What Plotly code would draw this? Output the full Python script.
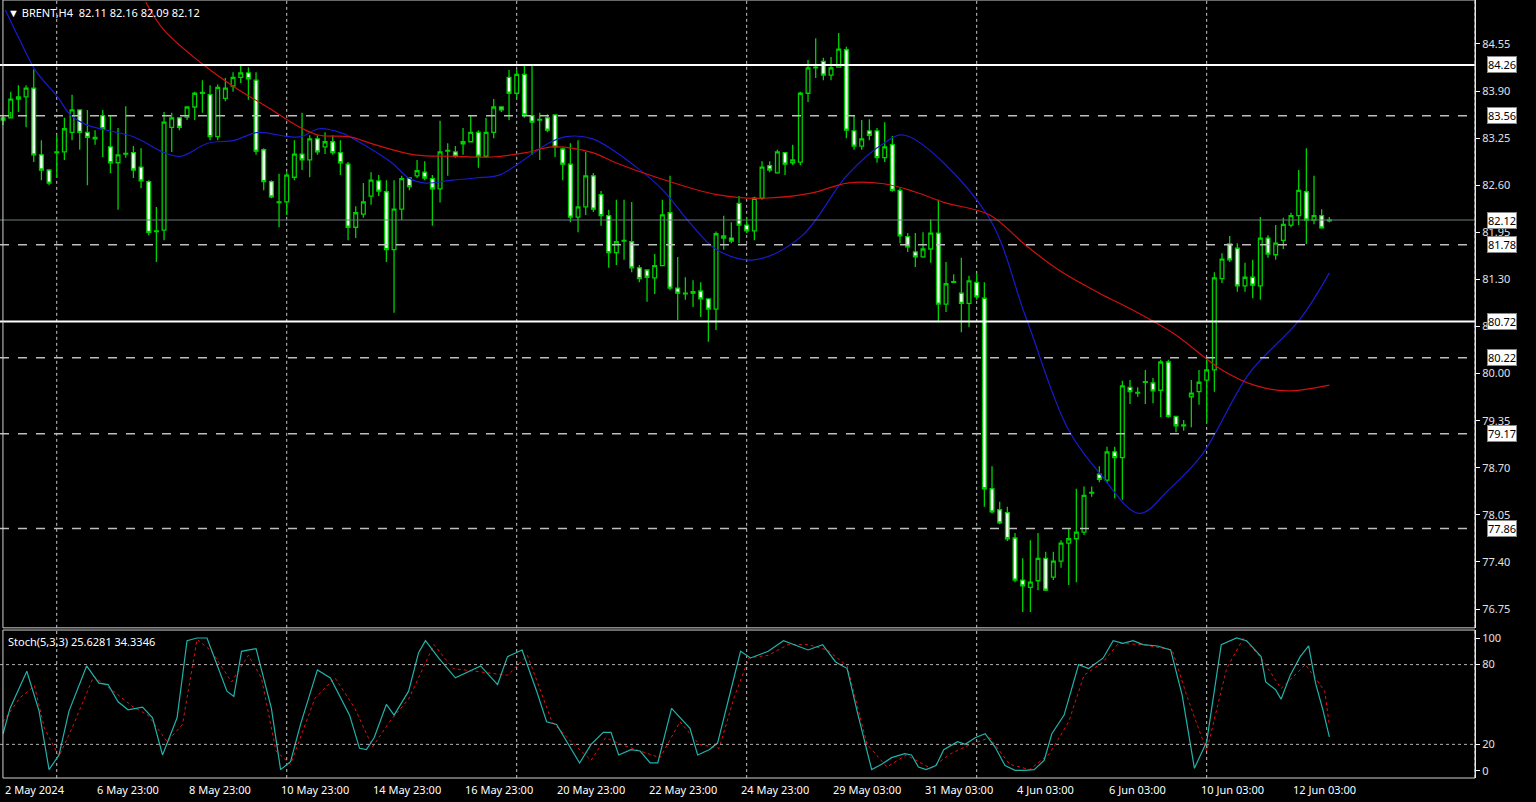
import plotly.graph_objects as go

# ---------------- data ----------------
opens = [83.50,83.53,83.79,83.82,83.94,83.02,82.81,83.05,83.06,83.33,83.64,83.33,83.26,83.56,83.13,82.91,83.03,83.05,82.85,82.65,
81.96,81.98,83.40,83.53,83.54,83.68,83.87,83.85,83.27,83.80,83.97,84.09,84.15,84.05,83.09,82.65,82.36,82.37,82.71,83.03,
82.95,83.24,83.13,83.20,83.05,82.89,82.02,82.20,82.45,82.66,82.51,81.71,82.27,82.70,82.73,82.78,82.69,82.55,83.07,83.06,
83.17,83.20,83.33,83.00,83.33,83.68,84.09,83.87,84.13,83.56,83.50,83.53,83.57,83.10,82.89,82.16,82.30,82.73,82.47,82.18,
81.67,81.83,81.82,81.46,81.43,81.32,81.49,82.22,81.18,81.10,81.13,81.14,81.03,80.89,81.90,81.87,82.35,82.05,81.97,82.42,
82.87,82.77,83.05,82.91,82.92,83.87,84.22,84.31,84.12,84.23,84.47,83.35,83.14,83.35,83.35,82.98,83.16,82.53,81.89,81.68,
81.61,81.72,81.94,80.96,81.26,81.11,80.97,81.26,81.04,78.41,78.12,78.08,77.73,77.15,77.05,77.14,77.45,77.19,77.41,77.66,
77.72,77.81,78.35,78.61,78.53,78.92,78.84,79.81,79.73,79.88,79.87,79.77,80.16,79.41,79.28,79.68,79.75,79.91,80.05,81.31,
81.79,81.73,81.21,81.33,81.21,81.87,81.64,81.84,82.05,82.18,82.51,82.12,82.18,82.11]
highs = [83.57,83.89,83.98,83.98,84.20,83.22,82.81,83.29,83.53,83.85,83.64,83.64,83.36,83.64,83.57,83.39,83.69,83.14,83.11,82.67,
82.30,83.61,83.60,83.53,83.68,83.89,84.05,83.98,83.99,84.08,84.16,84.26,84.23,84.16,83.11,82.67,82.76,82.78,83.22,83.60,
83.29,83.29,83.33,83.29,83.22,82.92,82.31,82.63,82.78,82.74,82.67,82.67,82.73,82.71,82.95,82.93,82.74,83.49,83.18,83.14,
83.39,83.57,83.36,83.53,83.79,83.68,84.19,84.19,84.25,84.26,83.60,83.58,83.57,83.12,83.18,83.22,83.06,82.77,82.52,82.26,
82.40,82.40,82.37,81.50,81.43,81.65,82.40,82.73,81.61,81.33,81.29,81.26,81.04,81.96,82.18,82.09,82.45,82.15,82.44,82.93,
82.93,83.09,83.06,83.16,83.89,84.33,84.63,84.36,84.37,84.70,84.51,83.57,83.50,83.51,83.39,83.47,83.28,82.56,81.94,81.94,
81.95,82.13,82.40,81.54,81.37,81.60,81.35,81.39,81.26,78.72,78.23,78.16,77.80,77.45,77.70,77.80,77.54,77.54,77.70,77.87,
78.41,78.44,78.44,78.72,78.99,78.99,79.90,79.91,79.81,80.05,79.94,80.19,80.19,79.41,79.36,79.91,80.05,80.19,81.40,81.66,
81.90,81.80,81.53,81.57,82.16,81.91,82.05,82.15,82.22,82.81,83.11,82.73,82.27,82.16]
lows = [83.43,83.61,83.61,83.40,82.92,82.67,82.60,82.70,82.95,83.22,83.09,82.60,83.16,82.99,82.77,82.26,82.98,82.70,82.56,81.91,
81.54,81.84,83.06,83.36,83.50,83.50,83.60,83.22,83.22,83.76,83.89,84.01,83.78,83.02,82.53,82.42,82.02,82.19,82.67,82.81,
82.71,83.02,83.03,83.02,82.74,81.84,81.87,82.15,82.33,82.45,81.54,80.84,82.12,82.53,82.70,82.67,82.04,82.36,82.73,82.98,
83.02,83.20,82.84,82.98,83.25,83.61,83.50,83.80,83.53,83.02,82.95,83.33,82.99,82.67,82.09,81.95,82.19,82.23,82.04,81.46,
81.50,81.57,81.40,81.26,80.99,81.10,81.49,81.15,80.74,81.02,80.92,80.78,80.44,80.60,81.71,81.80,81.80,81.94,81.84,82.40,
82.78,82.76,82.74,82.88,82.88,83.75,84.08,84.05,84.05,84.23,83.25,83.09,83.09,83.22,82.91,82.92,82.51,81.80,81.68,81.47,
81.60,81.53,80.71,80.85,81.25,80.57,80.64,81.02,78.16,78.07,77.92,77.69,77.12,76.71,76.71,77.01,77.00,77.15,77.32,77.08,
77.12,77.77,78.30,78.50,78.49,78.28,78.26,79.58,79.68,79.58,79.59,79.40,79.39,79.19,79.21,79.26,79.57,79.32,79.75,81.25,
81.54,81.13,81.13,81.04,81.02,81.60,81.57,81.72,82.02,82.05,81.79,82.06,82.00,82.09]
closes = [83.53,83.79,83.82,83.94,83.02,82.81,82.63,83.06,83.38,83.64,83.33,83.26,83.24,83.38,82.91,83.02,83.04,82.81,82.66,81.95,
81.97,83.47,83.53,83.40,83.68,83.87,83.88,83.27,83.95,83.94,84.09,84.15,84.07,83.07,82.65,82.44,82.37,82.74,83.03,82.95,
83.24,83.06,83.20,83.05,82.91,82.02,82.22,82.37,82.67,82.52,81.71,82.27,82.69,82.58,82.80,82.70,82.55,83.06,83.08,83.00,
83.20,83.33,83.00,83.33,83.68,83.64,83.87,84.13,83.57,83.47,83.51,83.36,83.13,82.89,82.16,82.30,82.73,82.27,82.18,81.67,
81.82,81.84,81.46,81.31,81.33,81.49,82.19,81.18,81.11,81.11,81.11,81.03,80.89,81.93,81.87,81.83,82.05,81.97,82.42,82.85,
82.81,83.06,82.89,82.95,83.87,84.22,84.23,84.12,84.22,84.48,83.36,83.14,83.24,83.29,82.98,83.13,82.53,81.90,81.75,81.61,
81.72,81.94,80.96,81.24,81.27,80.97,81.28,81.06,78.41,78.09,77.94,77.72,77.15,77.07,77.12,77.45,77.01,77.41,77.66,77.72,
77.81,78.32,78.36,78.54,78.92,78.84,79.83,79.75,79.74,79.89,79.76,80.16,79.41,79.28,79.29,79.73,79.88,80.05,81.32,81.58,
81.57,81.21,81.33,81.22,81.87,81.65,81.80,82.06,82.18,82.53,82.12,82.18,82.01,82.12]

# moving averages: (bar index, value)
ma_fast_idx = [0.3,2.2,4.2,7.1,8.8,11.0,17.0,21.0,23.2,26.7,30.1,33.3,37.2,38.9,41.2,44.2,46.4,50.7,52.9,55.0,58.6,61.6,64.7,67.4,70.8,73.4,76.9,82.6,86.1,89.6,93.1,97.9,104.1,110.1,114.9,117.6,128.2,133.4,138.8,143.0,148.2,152.0,156.4,162.6,169.1,173]
ma_fast_val = [85.02,84.60,84.19,83.82,83.57,83.43,83.27,83.05,83.00,83.18,83.22,83.33,83.27,83.27,83.38,83.32,83.20,82.91,82.70,82.63,82.67,82.70,82.74,82.91,83.16,83.27,83.24,82.85,82.53,82.08,81.71,81.57,81.89,82.74,83.18,83.29,82.22,80.78,79.26,78.63,78.07,78.39,78.88,80.01,80.74,81.39]
ma_slow_idx = [18.6,21.0,25.8,30.1,34.6,38.9,41.2,45.1,48.5,53.7,58.6,63.8,68.2,71.7,76.9,79.9,85.2,93.1,98.8,105.4,110.1,114.9,118.9,122.8,128.7,133.4,137.7,143.0,147.3,152.6,159.0,163.2,167.5,173]
ma_slow_val = [85.13,84.74,84.29,83.96,83.67,83.39,83.29,83.27,83.16,83.02,83.00,82.99,83.05,83.13,83.05,82.91,82.71,82.47,82.42,82.49,82.63,82.62,82.51,82.36,82.19,81.77,81.43,81.11,80.88,80.56,80.05,79.84,79.76,79.84]

stoch_main_idx = [0,0.9,3.1,4.7,6.0,7.3,8.6,10.9,12.5,13.7,15.0,16.3,18.2,19.5,20.8,22.7,24.0,25.3,26.6,29.2,30.1,31.1,33.0,35.0,36.2,37.5,38.8,41.0,42.7,43.9,45.2,46.5,47.4,48.4,50.0,51.0,52.9,54.2,55.1,56.8,59.0,62.3,64.5,65.8,67.7,69.6,70.9,72.2,73.5,75.2,76.7,78.3,79.3,80.3,81.9,83.1,84.4,85.4,87.2,89.6,90.6,92.1,93.2,95.7,96.2,97.5,99.8,101.8,103.7,105.0,106.9,108.6,110.1,111.4,113.3,114.6,115.9,117.6,118.5,119.4,120.4,121.7,122.7,124.5,125.5,126.8,128.1,129.4,130.7,132.0,133.3,134.5,135.8,136.8,138.4,140.3,141.6,143.5,144.8,146.1,147.4,148.7,150.6,152.3,153.8,155.4,157.0,158.9,160.9,162.2,164.1,164.7,166.0,166.7,167.9,169.2,170.3,171.2,172.2,173]
stoch_main_val = [28,47,75,45,1,12,45,79,66,65,52,46,48,40,12,40,98,100,100,60,56,90,92,47,1,7,35,76,70,57,42,17,16,25,50,42,60,89,98,85,70,79,65,86,91,60,37,35,22,6,20,29,29,12,16,15,6,6,47,32,12,16,21,79,90,85,90,98,94,91,95,82,77,45,1,5,10,13,12,3,1,4,16,22,20,25,28,18,4,0.5,0.5,1,8,28,42,80,77,85,98,96,98,95,94,91,57,2,22,95,100,98,86,67,61,54,72,86,94,66,45,25.6281]
stoch_sig_idx = [0,2.2,4.1,5.4,7.3,9.2,11.8,14.4,17.0,18.9,21.4,23.4,25.3,27.2,29.8,32.0,33.7,35.6,37.5,40.7,43.3,45.9,48.2,50.4,52.9,56.2,58.7,62.6,65.8,68.4,71.6,74.1,76.7,78.6,80.6,83.1,85.7,88.3,90.8,93.4,95.4,97.3,99.8,102.4,105.0,107.5,110.1,112.7,115.3,117.8,121.0,123.6,126.2,128.7,131.3,133.9,136.5,139.0,141.0,143.5,145.5,148.7,152.5,154.5,157.0,159.6,161.8,164.1,166.7,169.9,172.4,173]
stoch_sig_val = [37,55,64,32,11,35,71,60,48,42,22,35,99,90,67,87,70,15,5,55,70,47,18,37,54,95,77,74,72,87,37,22,8,25,20,15,10,37,20,17,56,85,87,95,95,91,79,20,3,12,2,13,20,25,5,1,13,37,72,82,96,95,91,55,15,77,100,85,62,80,60,34.3346]

price_ticks = [84.55,83.90,83.25,82.60,81.95,81.30,80.65,80.00,79.35,78.70,78.05,77.40,76.75]
solid_levels = [84.26, 80.72]
dashed_levels = [83.56, 81.78, 80.22, 79.17, 77.86]
last_price = 82.12
date_idx = [0,12,24,36,48,60,72,84,96,108,120,132,144,156,168]
date_labels = ["2 May 2024","6 May 23:00","8 May 23:00","10 May 23:00","14 May 23:00","16 May 23:00","20 May 23:00",
               "22 May 23:00","24 May 23:00","29 May 03:00","31 May 03:00","4 Jun 03:00","6 Jun 03:00","10 Jun 03:00","12 Jun 03:00"]
vgrid_idx = [7,37,67,97,127,157,192]

# ---------------- figure ----------------
GREEN = "#00d000"
FONT = "Noto Sans"
xr = [-0.4, 192.0]
fig = go.Figure()
x = list(range(len(closes)))
fig.add_trace(go.Candlestick(x=x, open=opens, high=highs, low=lows, close=closes,
    increasing=dict(line=dict(color=GREEN, width=1.3), fillcolor="black"),
    decreasing=dict(line=dict(color=GREEN, width=1.3), fillcolor="white"),
    whiskerwidth=0, xaxis="x", yaxis="y", showlegend=False, hoverinfo="skip"))
fig.add_trace(go.Scatter(x=ma_fast_idx, y=ma_fast_val, mode="lines", line=dict(color="#1a1ad0", width=1.2, shape="spline"), xaxis="x", yaxis="y", showlegend=False))
fig.add_trace(go.Scatter(x=ma_slow_idx, y=ma_slow_val, mode="lines", line=dict(color="#d01010", width=1.2, shape="spline"), xaxis="x", yaxis="y", showlegend=False))
fig.add_trace(go.Scatter(x=stoch_sig_idx, y=stoch_sig_val, mode="lines", line=dict(color="#e01010", width=1, dash="dot"), xaxis="x2", yaxis="y2", showlegend=False))
fig.add_trace(go.Scatter(x=stoch_main_idx, y=stoch_main_val, mode="lines", line=dict(color="#20b2aa", width=1.2), xaxis="x2", yaxis="y2", showlegend=False))

shapes = []
for v in vgrid_idx:
    for ya in ("y", "y2"):
        shapes.append(dict(type="line", xref="x" if ya == "y" else "x2", yref=ya + " domain", x0=v, x1=v, y0=0, y1=1,
                           line=dict(color="#c8c8c8", width=1, dash="dot"), layer="below"))
for lv in solid_levels:
    shapes.append(dict(type="line", xref="x domain", yref="y", x0=0, x1=1, y0=lv, y1=lv, line=dict(color="white", width=2)))
for lv in dashed_levels:
    shapes.append(dict(type="line", xref="x domain", yref="y", x0=0, x1=1, y0=lv, y1=lv, line=dict(color="#bdbdbd", width=1.5, dash="dash")))
shapes.append(dict(type="line", xref="x domain", yref="y", x0=0, x1=1, y0=last_price, y1=last_price, line=dict(color="#707a80", width=1)))
for lv in (20, 80):
    shapes.append(dict(type="line", xref="x2 domain", yref="y2", x0=0, x1=1, y0=lv, y1=lv, line=dict(color="#b0b0b0", width=1, dash="dot")))
for ya in ("y", "y2"):
    shapes.append(dict(type="rect", xref="x domain", yref=ya + " domain", x0=0.002, x1=1, y0=0, y1=1, line=dict(color="#d0d0d0", width=1), fillcolor="rgba(0,0,0,0)"))

annotations = []
for lv in solid_levels + dashed_levels + [last_price]:
    annotations.append(dict(x=1.0, xref="x domain", y=lv, yref="y", text=f"{lv:.2f}", showarrow=False, xanchor="left", xshift=12,
                            font=dict(family=FONT, size=11, color="black"), bgcolor="white", bordercolor="#888", borderwidth=1, borderpad=0))
for i, lab in zip(date_idx, date_labels):
    annotations.append(dict(x=i, xref="x2", y=0, yref="paper", text=lab, showarrow=False, xanchor="left", yanchor="top", yshift=-2,
                            font=dict(family=FONT, size=11, color="white")))
annotations.append(dict(x=0.004, xref="paper", y=1, yref="paper", yanchor="top", xanchor="left", yshift=-3, showarrow=False,
                        text="▼ BRENT,H4  82.11 82.16 82.09 82.12", font=dict(family=FONT, size=11, color="white")))
annotations.append(dict(x=0.004, xref="paper", y=1, yref="y2 domain", yanchor="top", xanchor="left", yshift=-2, showarrow=False,
                        text="Stoch(5,3,3) 25.6281 34.3346", font=dict(family=FONT, size=11, color="white")))

fig.update_layout(
    width=1536, height=802, paper_bgcolor="black", plot_bgcolor="black",
    margin=dict(l=0, r=61, t=0, b=24),
    shapes=shapes, annotations=annotations, showlegend=False,
    xaxis=dict(domain=[0, 1], range=xr, showgrid=False, showticklabels=False, zeroline=False, rangeslider=dict(visible=False), anchor="y"),
    xaxis2=dict(domain=[0, 1], range=xr, showgrid=False, showticklabels=False, zeroline=False, anchor="y2", matches="x"),
    yaxis=dict(domain=[0.193, 1], range=[76.49, 85.157], side="right", tickvals=price_ticks, ticktext=[f"{t:.2f}" for t in price_ticks],
               ticks="outside", ticklen=4, tickcolor="white", showgrid=False, zeroline=False, showline=True, linecolor="white",
               tickfont=dict(family=FONT, size=11, color="#e0e0e0")),
    yaxis2=dict(domain=[0, 0.1902], range=[-5.3, 106], side="right", tickvals=[0, 20, 80, 100], ticks="outside", ticklen=4, tickcolor="white",
                showgrid=False, zeroline=False, showline=True, linecolor="white", tickfont=dict(family=FONT, size=11, color="#e0e0e0")),
)
fig.write_html("out.html", config={"displayModeBar": False},
               post_script="document.body.style.margin='0';document.body.style.background='black';window.dispatchEvent(new Event('resize'));")
